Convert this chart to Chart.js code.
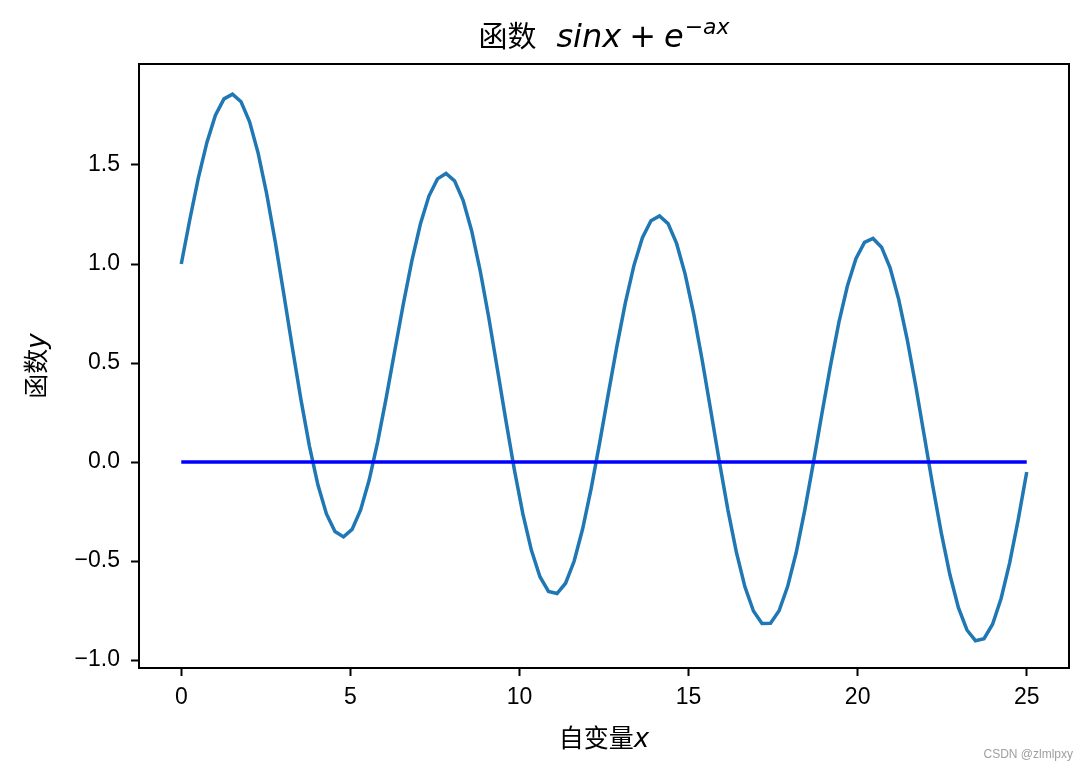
<!DOCTYPE html>
<html>
<head>
<meta charset="utf-8">
<script src="https://cdn.jsdelivr.net/npm/chart.js@4/dist/chart.umd.min.js"></script>
<style>
  html, body { margin: 0; padding: 0; background: #fff; }
  #wrap { width: 1089px; height: 771px; position: relative; }
</style>
</head>
<body>
<div id="wrap"><canvas id="plot"></canvas></div>
<script>
const xs = [
  0, 0.253, 0.505, 0.758, 1.010, 1.263, 1.515, 1.768, 2.020, 2.273,
  2.525, 2.778, 3.030, 3.283, 3.535, 3.788, 4.040, 4.293, 4.545, 4.798,
  5.051, 5.303, 5.556, 5.808, 6.061, 6.313, 6.566, 6.818, 7.071, 7.323,
  7.576, 7.828, 8.081, 8.333, 8.586, 8.838, 9.091, 9.343, 9.596, 9.848,
  10.101, 10.354, 10.606, 10.859, 11.111, 11.364, 11.616, 11.869, 12.121, 12.374,
  12.626, 12.879, 13.131, 13.384, 13.636, 13.889, 14.141, 14.394, 14.646, 14.899,
  15.152, 15.404, 15.657, 15.909, 16.162, 16.414, 16.667, 16.919, 17.172, 17.424,
  17.677, 17.929, 18.182, 18.434, 18.687, 18.939, 19.192, 19.444, 19.697, 19.949,
  20.202, 20.455, 20.707, 20.960, 21.212, 21.465, 21.717, 21.970, 22.222, 22.475,
  22.727, 22.980, 23.232, 23.485, 23.737, 23.990, 24.242, 24.495, 24.747, 25
];
const ys = [
  1.000, 1.225, 1.435, 1.614, 1.751, 1.834, 1.858, 1.819, 1.718, 1.560,
  1.355, 1.113, 0.850, 0.580, 0.319, 0.082, -0.115, -0.262, -0.351, -0.378,
  -0.340, -0.242, -0.091, 0.102, 0.325, 0.562, 0.798, 1.016, 1.202, 1.343,
  1.430, 1.457, 1.420, 1.322, 1.168, 0.967, 0.731, 0.474, 0.213, -0.038,
  -0.262, -0.446, -0.579, -0.653, -0.664, -0.612, -0.501, -0.337, -0.133, 0.099,
  0.343, 0.583, 0.804, 0.992, 1.133, 1.219, 1.243, 1.204, 1.104, 0.949,
  0.748, 0.514, 0.260, 0.004, -0.240, -0.455, -0.630, -0.752, -0.815, -0.814,
  -0.751, -0.629, -0.458, -0.245, -0.008, 0.240, 0.482, 0.704, 0.889, 1.027,
  1.109, 1.129, 1.085, 0.981, 0.823, 0.620, 0.385, 0.133, -0.121, -0.359,
  -0.568, -0.735, -0.848, -0.902, -0.892, -0.819, -0.689, -0.509, -0.292, -0.050
];
// horizontal reference line
const zeroX = [0, 25];
const zeroY = [0, 0];

const xTicks = [0, 5, 10, 15, 20, 25];
const yTicks = [-1.0, -0.5, 0.0, 0.5, 1.0, 1.5];

const CJK = '"Noto Sans CJK SC", sans-serif';
const MATH = '"DejaVu Sans", sans-serif';

// frame, title, axis labels and the watermark
const decor = {
  id: 'decor',
  afterDraw(chart) {
    const ctx = chart.ctx;
    const a = chart.chartArea;
    ctx.save();
    ctx.strokeStyle = '#000';
    ctx.lineWidth = 2;
    ctx.strokeRect(a.left, a.top, a.right - a.left, a.bottom - a.top);

    // title: 函数 sinx + e^{-ax}
    const parts = [
      { t: '函数', f: '29px ' + CJK, dy: 0, gap: 20 },
      { t: 'sinx', f: 'italic 32px ' + MATH, dy: 0, gap: 8 },
      { t: '+', f: '32px ' + MATH, dy: 0, gap: 8 },
      { t: 'e', f: 'italic 32px ' + MATH, dy: 0, gap: 1 },
      { t: '−ax', f: 'italic 22px ' + MATH, dy: -13, gap: 0 }
    ];
    let total = 0;
    parts.forEach(p => { ctx.font = p.f; p.w = ctx.measureText(p.t).width; total += p.w + p.gap; });
    let x = (a.left + a.right) / 2 - total / 2;
    ctx.fillStyle = '#000';
    ctx.textBaseline = 'alphabetic';
    ctx.textAlign = 'left';
    parts.forEach(p => { ctx.font = p.f; ctx.fillText(p.t, x, 47 + p.dy); x += p.w + p.gap; });

    // x label
    ctx.font = '25px ' + CJK;
    const xl1 = ctx.measureText('自变量').width;
    ctx.font = 'italic 26px ' + MATH;
    const xl2 = ctx.measureText('x').width;
    let lx = (a.left + a.right) / 2 - (xl1 + xl2) / 2;
    ctx.font = '25px ' + CJK;
    ctx.fillText('自变量', lx, 747);
    ctx.font = 'italic 26px ' + MATH;
    ctx.fillText('x', lx + xl1, 747);

    // y label (rotated)
    ctx.translate(45, (a.top + a.bottom) / 2);
    ctx.rotate(-Math.PI / 2);
    ctx.font = '25px ' + CJK;
    const yl1 = ctx.measureText('函数').width;
    ctx.font = 'italic 26px ' + MATH;
    const yl2 = ctx.measureText('y').width;
    let ly = -(yl1 + yl2) / 2;
    ctx.font = '25px ' + CJK;
    ctx.fillText('函数', ly, 0);
    ctx.font = 'italic 26px ' + MATH;
    ctx.fillText('y', ly + yl1, 0);
    ctx.restore();

    ctx.save();
    ctx.font = '12px "Liberation Sans", sans-serif';
    ctx.fillStyle = '#a0a0a0';
    ctx.textAlign = 'right';
    ctx.fillText('CSDN @zlmlpxy', 1073, 758);
    ctx.restore();
  }
};

const tickFont = { family: '"Liberation Sans", sans-serif', size: 23 };

new Chart(document.getElementById('plot'), {
  type: 'line',
  data: {
    datasets: [
      {
        data: xs.map((x, i) => ({ x: x, y: ys[i] })),
        borderColor: '#1f77b4',
        borderWidth: 3.5,
        pointRadius: 0,
        tension: 0,
        order: 1
      },
      {
        data: zeroX.map((x, i) => ({ x: x, y: zeroY[i] })),
        borderColor: '#0000ff',
        borderWidth: 3.5,
        pointRadius: 0,
        order: 0
      }
    ]
  },
  options: {
    responsive: true,
    maintainAspectRatio: false,
    animation: false,
    layout: { padding: { top: 64, right: 20, left: 0, bottom: 0 } },
    plugins: {
      legend: { display: false },
      tooltip: { enabled: false }
    },
    scales: {
      x: {
        type: 'linear',
        min: -1.25,
        max: 26.25,
        afterBuildTicks: s => { s.ticks = xTicks.map(v => ({ value: v })); },
        afterFit: s => { s.height = 103; },
        grid: { drawOnChartArea: false, drawTicks: true, tickLength: 8, tickWidth: 2, tickColor: '#000' },
        border: { display: true, color: '#000', width: 2 },
        ticks: { color: '#000', font: tickFont, padding: 8, maxRotation: 0, callback: v => String(v) }
      },
      y: {
        type: 'linear',
        min: -1.04,
        max: 2.01,
        afterBuildTicks: s => { s.ticks = yTicks.map(v => ({ value: v })); },
        afterFit: s => { s.width = 139; },
        grid: { drawOnChartArea: false, drawTicks: true, tickLength: 8, tickWidth: 2, tickColor: '#000' },
        border: { display: true, color: '#000', width: 2 },
        ticks: { color: '#000', font: tickFont, padding: 11, callback: v => v.toFixed(1).replace('-', '−') }
      }
    }
  },
  plugins: [decor]
});
</script>
</body>
</html>
